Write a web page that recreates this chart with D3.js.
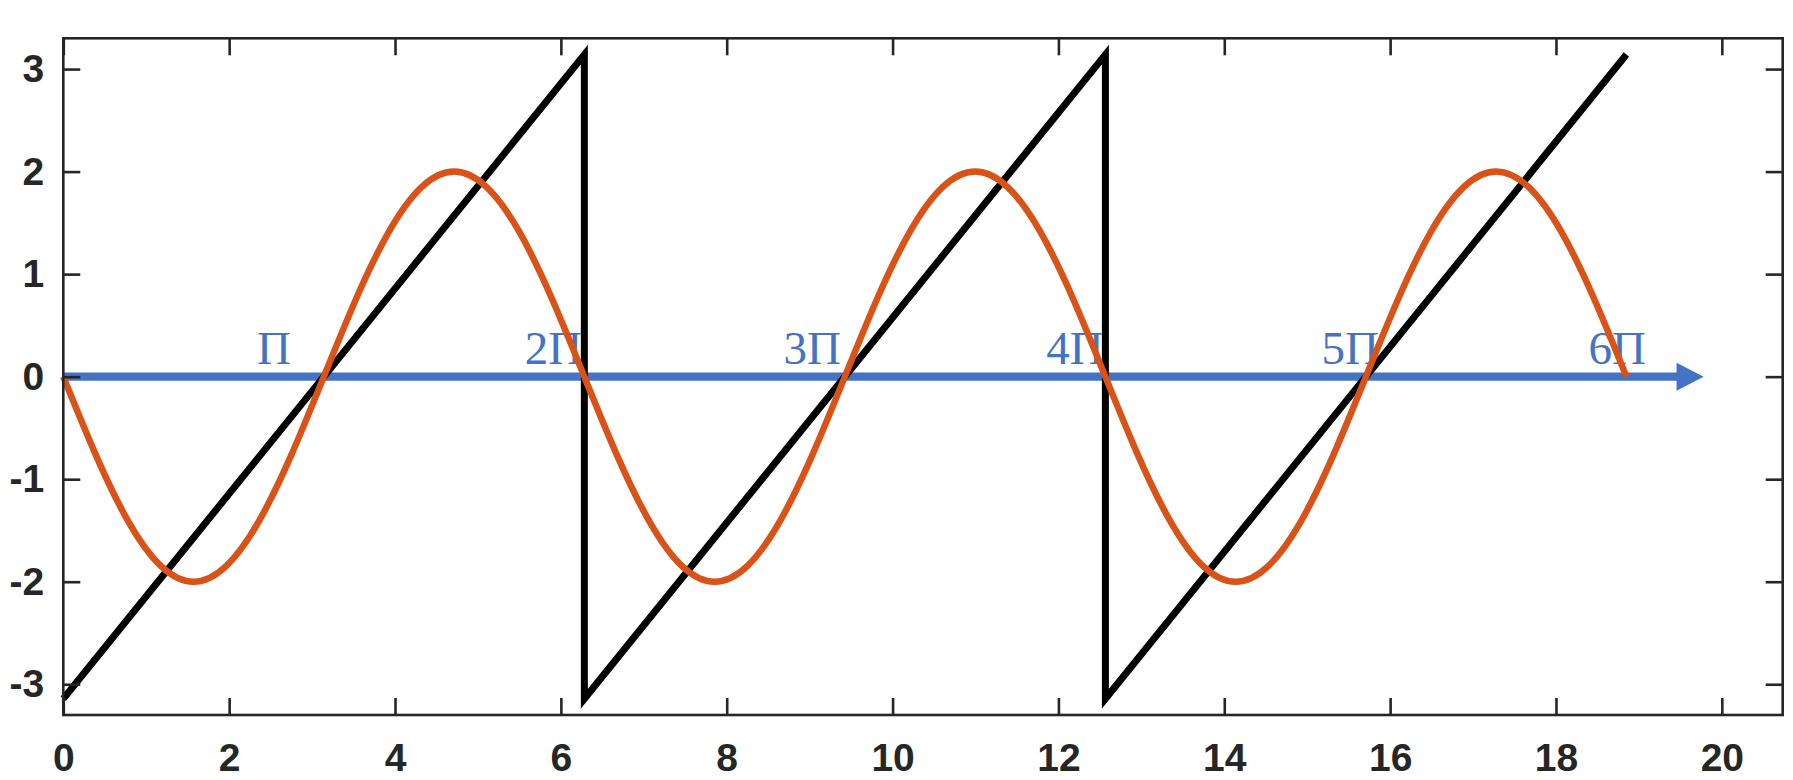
<!DOCTYPE html>
<html>
<head>
<meta charset="utf-8">
<script src="https://cdn.jsdelivr.net/npm/d3@7"></script>
<style>
  html, body { margin: 0; padding: 0; background: #ffffff; }
  svg { display: block; }
</style>
</head>
<body>
<div id="chart"></div>
<script>
// ---- data ----
// wrapped phase (sawtooth, black)
const phaseX = [0, 6.2832, 6.2832, 12.5664, 12.5664, 18.8496];
const phaseY = [-3.1416, 3.1416, -3.1416, 3.1416, -3.1416, 3.1416];

// orange wave samples (read at intervals of ~0.393)
const waveX = [0, 0.393, 0.785, 1.178, 1.571, 1.963, 2.356, 2.749, 3.142, 3.534, 3.927, 4.320, 4.712, 5.105, 5.498, 5.890,
               6.283, 6.676, 7.069, 7.461, 7.854, 8.247, 8.639, 9.032, 9.425, 9.817, 10.210, 10.603, 10.996, 11.388, 11.781, 12.174,
               12.566, 12.959, 13.352, 13.744, 14.137, 14.530, 14.923, 15.315, 15.708, 16.101, 16.493, 16.886, 17.279, 17.671, 18.064, 18.457,
               18.850];
const waveY = [0, -0.765, -1.414, -1.848, -2, -1.848, -1.414, -0.765, 0, 0.765, 1.414, 1.848, 2, 1.848, 1.414, 0.765,
               0, -0.765, -1.414, -1.848, -2, -1.848, -1.414, -0.765, 0, 0.765, 1.414, 1.848, 2, 1.848, 1.414, 0.765,
               0, -0.765, -1.414, -1.848, -2, -1.848, -1.414, -0.765, 0, 0.765, 1.414, 1.848, 2, 1.848, 1.414, 0.765,
               0];

// annotation arrow along y = 0
const arrowStart = 0;
const arrowEnd = 19.78;

// multiples-of-pi labels
const piLabels = ["Π", "2Π", "3Π", "4Π", "5Π", "6Π"];
const piLabelX = [2.54, 5.91, 9.03, 12.20, 15.52, 18.74];
const piLabelY = 0.127;

// axes
const xDomain = [0, 20.734];
const yDomain = [-3.3, 3.3];
const xTicks = [0, 2, 4, 6, 8, 10, 12, 14, 16, 18, 20];
const yTicks = [-3, -2, -1, 0, 1, 2, 3];

// ---- layout ----
const W = 1793, H = 780;
const mLeft = 63.3, mRight = 1782.7, mTop = 38.3, mBottom = 715;

const svg = d3.select("#chart").append("svg")
  .attr("width", W).attr("height", H);

const x = d3.scaleLinear().domain(xDomain).range([mLeft, mRight]);
const y = d3.scaleLinear().domain(yDomain).range([mBottom, mTop]);

const axisColor = "#262626";
const tickLen = 17;
const fontTick = "'Liberation Sans', Arial, Helvetica, sans-serif";
const fmt = d => String(d);   // plain hyphen-minus like the reference

// blue arrow (under curves)
const blue = "#4472C4";
const headLen = 27, headHalf = 14;
svg.append("line")
  .attr("x1", x(arrowStart)).attr("y1", y(0))
  .attr("x2", x(arrowEnd) - headLen + 1).attr("y2", y(0))
  .attr("stroke", blue).attr("stroke-width", 8.3);
svg.append("path")
  .attr("d", d3.line()([
    [x(arrowEnd), y(0)],
    [x(arrowEnd) - headLen, y(0) - headHalf],
    [x(arrowEnd) - headLen, y(0) + headHalf]
  ]) + "Z")
  .attr("fill", blue);

// pi labels
svg.append("g").selectAll("text")
  .data(piLabels)
  .join("text")
  .attr("x", (d, i) => x(piLabelX[i]))
  .attr("y", y(piLabelY))
  .attr("text-anchor", "middle")
  .attr("font-family", "'Liberation Serif', 'DejaVu Serif', serif")
  .attr("font-size", 47)
  .attr("fill", blue)
  .text(d => d);

// curves
const phaseData = phaseX.map((v, i) => [v, phaseY[i]]);
const waveData = waveX.map((v, i) => [v, waveY[i]]);

svg.append("path")
  .datum(phaseData)
  .attr("d", d3.line().x(d => x(d[0])).y(d => y(d[1])))
  .attr("fill", "none")
  .attr("stroke", "#000000")
  .attr("stroke-width", 7)
  .attr("stroke-linejoin", "miter");

svg.append("path")
  .datum(waveData)
  .attr("d", d3.line().x(d => x(d[0])).y(d => y(d[1])).curve(d3.curveNatural))
  .attr("fill", "none")
  .attr("stroke", "#D95319")
  .attr("stroke-width", 6.5);

// axes
function styleAxis(g) {
  g.select(".domain").remove();
  g.selectAll(".tick line").attr("stroke", axisColor).attr("stroke-width", 2.6);
  g.selectAll(".tick text")
    .attr("fill", axisColor)
    .attr("font-family", fontTick)
    .attr("font-size", 39)
    .attr("font-weight", "bold");
}

svg.append("g")
  .attr("transform", `translate(0,${mBottom})`)
  .call(d3.axisBottom(x).tickValues(xTicks).tickSizeInner(-tickLen).tickSizeOuter(0).tickPadding(28).tickFormat(fmt))
  .call(styleAxis);

svg.append("g")
  .attr("transform", `translate(0,${mTop})`)
  .call(d3.axisTop(x).tickValues(xTicks).tickSizeInner(-tickLen).tickSizeOuter(0).tickFormat(""))
  .call(styleAxis);

svg.append("g")
  .attr("transform", `translate(${mLeft},0)`)
  .call(d3.axisLeft(y).tickValues(yTicks).tickSizeInner(-tickLen).tickSizeOuter(0).tickPadding(19).tickFormat(fmt))
  .call(styleAxis);

svg.append("g")
  .attr("transform", `translate(${mRight},0)`)
  .call(d3.axisRight(y).tickValues(yTicks).tickSizeInner(-tickLen).tickSizeOuter(0).tickFormat(""))
  .call(styleAxis);

// frame
svg.append("rect")
  .attr("x", mLeft).attr("y", mTop)
  .attr("width", mRight - mLeft).attr("height", mBottom - mTop)
  .attr("fill", "none")
  .attr("stroke", axisColor)
  .attr("stroke-width", 2.6);
</script>
</body>
</html>
